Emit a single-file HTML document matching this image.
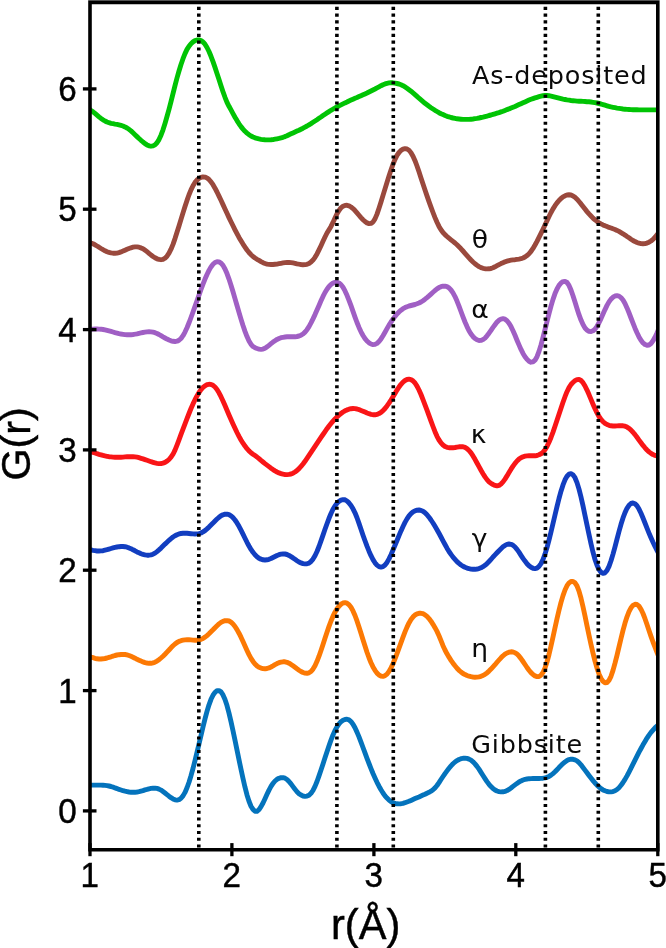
<!DOCTYPE html><html><head><meta charset="utf-8"><title>G(r)</title>
<style>html,body{margin:0;padding:0;background:#fff}body{width:666px;height:948px;overflow:hidden}svg{display:block}.t{font-family:"Liberation Sans",Arial,Helvetica,sans-serif;fill:#000;stroke:#000;stroke-width:0.45px}.l{font-family:"DejaVu Sans","Liberation Sans",sans-serif;fill:#0a0a0a}</style></head><body>
<svg width="666" height="948" viewBox="0 0 666 948">
<rect width="666" height="948" fill="#fff"/>
<defs><clipPath id="c"><rect x="90.0" y="2.4" width="567.8" height="847.4"/></clipPath></defs>
<g clip-path="url(#c)" fill="none" stroke-linejoin="round" stroke-linecap="butt" stroke-width="4.9">
<path d="M89.0,785.1 91.0,785.1 93.0,785.1 95.0,785.1 97.0,785.1 99.0,785.1 101.0,785.1 103.0,785.2 105.0,785.4 107.0,785.6 109.0,786.0 111.0,786.5 113.0,787.1 115.0,787.9 117.0,788.6 119.0,789.4 121.0,790.0 123.0,790.7 125.0,791.2 127.0,791.6 129.0,792.0 131.0,792.2 133.0,792.3 135.0,792.2 137.0,792.0 139.0,791.6 141.0,791.1 143.0,790.6 145.0,789.9 147.0,789.4 149.0,788.8 151.0,788.4 153.0,788.2 155.0,788.1 157.0,788.4 159.0,789.1 161.0,790.1 163.0,791.5 165.0,793.0 167.0,794.6 169.0,796.2 171.0,797.7 173.0,798.9 175.0,799.8 177.0,800.1 179.0,799.7 181.0,798.3 183.0,795.9 185.0,792.4 187.0,787.8 189.0,782.2 191.0,775.7 193.0,768.5 195.0,760.6 197.0,752.4 199.0,744.0 201.0,735.5 203.0,727.0 205.0,718.9 207.0,711.4 209.0,704.8 211.0,699.3 213.0,695.2 215.0,692.3 217.0,690.7 219.0,690.6 221.0,691.9 223.0,694.9 225.0,699.5 227.0,705.6 229.0,713.1 231.0,721.6 233.0,730.8 235.0,740.3 237.0,750.1 239.0,759.8 241.0,769.3 243.0,778.5 245.0,787.2 247.0,794.9 249.0,801.3 251.0,806.2 253.0,809.4 255.0,811.2 257.0,811.3 259.0,809.7 261.0,806.7 263.0,803.0 265.0,798.7 267.0,794.3 269.0,790.1 271.0,786.4 273.0,783.3 275.0,781.0 277.0,779.3 279.0,778.3 281.0,777.7 283.0,777.7 285.0,778.2 287.0,779.5 289.0,781.5 291.0,783.9 293.0,786.6 295.0,789.3 297.0,791.7 299.0,793.7 301.0,795.1 303.0,796.0 305.0,796.4 307.0,796.1 309.0,795.2 311.0,793.3 313.0,790.4 315.0,786.4 317.0,781.5 319.0,775.9 321.0,770.0 323.0,763.9 325.0,757.7 327.0,751.7 329.0,745.7 331.0,740.1 333.0,734.9 335.0,730.5 337.0,726.9 339.0,723.9 341.0,721.7 343.0,720.3 345.0,719.5 347.0,719.2 349.0,719.9 351.0,721.6 353.0,724.2 355.0,727.8 357.0,732.1 359.0,736.9 361.0,742.1 363.0,747.5 365.0,752.9 367.0,758.3 369.0,763.5 371.0,768.6 373.0,773.5 375.0,778.0 377.0,782.3 379.0,786.2 381.0,789.8 383.0,793.0 385.0,795.8 387.0,798.1 389.0,800.1 391.0,801.7 393.0,802.8 395.0,803.5 397.0,803.8 399.0,803.9 401.0,803.7 403.0,803.3 405.0,802.7 407.0,802.0 409.0,801.3 411.0,800.4 413.0,799.5 415.0,798.6 417.0,797.7 419.0,796.9 421.0,796.0 423.0,795.1 425.0,794.2 427.0,793.2 429.0,792.3 431.0,791.2 433.0,789.8 435.0,787.9 437.0,785.5 439.0,782.6 441.0,779.5 443.0,776.5 445.0,773.6 447.0,770.9 449.0,768.3 451.0,765.9 453.0,763.8 455.0,762.0 457.0,760.6 459.0,759.5 461.0,758.7 463.0,758.3 465.0,758.2 467.0,758.4 469.0,759.1 471.0,760.1 473.0,761.8 475.0,763.9 477.0,766.4 479.0,769.2 481.0,772.3 483.0,775.5 485.0,778.6 487.0,781.6 489.0,784.3 491.0,786.6 493.0,788.6 495.0,790.0 497.0,791.0 499.0,791.6 501.0,791.9 503.0,791.8 505.0,791.4 507.0,790.6 509.0,789.4 511.0,788.0 513.0,786.4 515.0,784.9 517.0,783.4 519.0,782.0 521.0,780.9 523.0,780.0 525.0,779.4 527.0,779.0 529.0,778.7 531.0,778.6 533.0,778.5 535.0,778.5 537.0,778.5 539.0,778.5 541.0,778.4 543.0,778.2 545.0,777.9 547.0,777.3 549.0,776.4 551.0,775.1 553.0,773.6 555.0,771.8 557.0,769.7 559.0,767.6 561.0,765.6 563.0,763.6 565.0,761.9 567.0,760.5 569.0,759.6 571.0,759.2 573.0,759.3 575.0,759.9 577.0,760.9 579.0,762.6 581.0,764.8 583.0,767.4 585.0,770.1 587.0,772.8 589.0,775.5 591.0,778.1 593.0,780.6 595.0,783.0 597.0,785.1 599.0,787.0 601.0,788.6 603.0,789.9 605.0,790.8 607.0,791.5 609.0,791.9 611.0,791.9 613.0,791.6 615.0,790.8 617.0,789.5 619.0,787.7 621.0,785.3 623.0,782.5 625.0,779.4 627.0,775.9 629.0,772.1 631.0,768.2 633.0,764.2 635.0,760.2 637.0,756.2 639.0,752.2 641.0,748.5 643.0,744.8 645.0,741.4 647.0,738.1 649.0,735.1 651.0,732.4 653.0,730.1 655.0,727.9 657.0,726.0 659.0,724.2" stroke="#0473bc"/>
<path d="M89.0,656.4 91.0,657.1 93.0,657.7 95.0,658.3 97.0,658.8 99.0,659.0 101.0,659.0 103.0,658.8 105.0,658.5 107.0,658.0 109.0,657.4 111.0,656.8 113.0,656.1 115.0,655.5 117.0,655.0 119.0,654.7 121.0,654.5 123.0,654.4 125.0,654.5 127.0,654.9 129.0,655.5 131.0,656.3 133.0,657.2 135.0,658.2 137.0,659.3 139.0,660.2 141.0,661.1 143.0,661.9 145.0,662.6 147.0,663.0 149.0,663.3 151.0,663.3 153.0,662.9 155.0,662.2 157.0,661.1 159.0,659.7 161.0,658.0 163.0,656.2 165.0,654.2 167.0,652.1 169.0,650.0 171.0,647.8 173.0,645.8 175.0,644.0 177.0,642.5 179.0,641.4 181.0,640.7 183.0,640.2 185.0,639.9 187.0,639.8 189.0,639.8 191.0,639.9 193.0,640.1 195.0,640.2 197.0,640.2 199.0,639.9 201.0,639.3 203.0,638.4 205.0,637.2 207.0,635.6 209.0,633.8 211.0,631.8 213.0,629.8 215.0,627.7 217.0,625.7 219.0,623.9 221.0,622.4 223.0,621.3 225.0,620.7 227.0,620.6 229.0,621.0 231.0,622.1 233.0,624.0 235.0,626.5 237.0,629.6 239.0,633.2 241.0,637.2 243.0,641.6 245.0,646.0 247.0,650.4 249.0,654.6 251.0,658.3 253.0,661.4 255.0,664.0 257.0,665.9 259.0,667.3 261.0,668.1 263.0,668.6 265.0,668.8 267.0,668.5 269.0,667.9 271.0,667.0 273.0,665.9 275.0,664.7 277.0,663.6 279.0,662.7 281.0,662.1 283.0,661.8 285.0,661.8 287.0,662.3 289.0,663.2 291.0,664.4 293.0,665.8 295.0,667.3 297.0,668.8 299.0,670.2 301.0,671.5 303.0,672.5 305.0,673.1 307.0,673.3 309.0,672.8 311.0,671.5 313.0,669.1 315.0,665.7 317.0,661.3 319.0,656.2 321.0,650.5 323.0,644.4 325.0,638.2 327.0,632.2 329.0,626.4 331.0,621.0 333.0,616.2 335.0,612.2 337.0,608.8 339.0,606.2 341.0,604.2 343.0,603.0 345.0,602.7 347.0,603.2 349.0,604.7 351.0,607.3 353.0,610.9 355.0,615.5 357.0,620.9 359.0,626.9 361.0,633.2 363.0,639.7 365.0,646.1 367.0,652.2 369.0,657.8 371.0,662.7 373.0,666.9 375.0,670.3 377.0,673.1 379.0,675.0 381.0,676.1 383.0,676.4 385.0,675.7 387.0,674.1 389.0,671.4 391.0,667.9 393.0,663.7 395.0,658.8 397.0,653.6 399.0,648.1 401.0,642.6 403.0,637.1 405.0,631.9 407.0,627.1 409.0,622.9 411.0,619.5 413.0,616.9 415.0,615.0 417.0,613.9 419.0,613.3 421.0,613.3 423.0,613.7 425.0,614.8 427.0,616.4 429.0,618.6 431.0,621.2 433.0,624.3 435.0,627.7 437.0,631.4 439.0,635.7 441.0,640.6 443.0,645.7 445.0,650.0 447.0,653.8 449.0,657.2 451.0,660.3 453.0,663.2 455.0,665.8 457.0,668.2 459.0,670.3 461.0,672.0 463.0,673.5 465.0,674.6 467.0,675.5 469.0,676.2 471.0,676.7 473.0,677.0 475.0,677.2 477.0,677.1 479.0,676.8 481.0,676.3 483.0,675.5 485.0,674.3 487.0,672.9 489.0,671.1 491.0,669.1 493.0,666.9 495.0,664.7 497.0,662.3 499.0,660.0 501.0,657.8 503.0,655.8 505.0,654.2 507.0,653.0 509.0,652.2 511.0,651.8 513.0,652.0 515.0,652.7 517.0,654.1 519.0,656.1 521.0,658.6 523.0,661.5 525.0,664.5 527.0,667.5 529.0,670.2 531.0,672.6 533.0,674.5 535.0,675.9 537.0,676.6 539.0,676.5 541.0,675.2 543.0,672.4 545.0,668.0 547.0,662.0 549.0,654.5 551.0,646.0 553.0,637.0 555.0,627.8 557.0,618.8 559.0,610.3 561.0,602.4 563.0,595.6 565.0,590.0 567.0,585.7 569.0,582.9 571.0,581.5 573.0,581.4 575.0,582.8 577.0,585.9 579.0,591.1 581.0,598.2 583.0,606.7 585.0,616.1 587.0,625.7 589.0,635.2 591.0,644.4 593.0,653.1 595.0,661.1 597.0,668.1 599.0,673.9 601.0,678.3 603.0,681.3 605.0,682.8 607.0,682.5 609.0,680.3 611.0,676.3 613.0,670.4 615.0,663.2 617.0,655.3 619.0,646.9 621.0,638.5 623.0,630.4 625.0,623.1 627.0,616.8 629.0,611.6 631.0,607.8 633.0,605.4 635.0,604.3 637.0,604.5 639.0,606.2 641.0,609.3 643.0,613.5 645.0,618.7 647.0,624.5 649.0,630.5 651.0,636.4 653.0,642.0 655.0,647.2 657.0,652.3 659.0,657.4" stroke="#fc7904"/>
<path d="M89.0,549.6 91.0,550.0 93.0,550.4 95.0,550.7 97.0,551.0 99.0,551.0 101.0,550.9 103.0,550.7 105.0,550.2 107.0,549.7 109.0,549.1 111.0,548.5 113.0,547.9 115.0,547.4 117.0,547.0 119.0,546.7 121.0,546.5 123.0,546.5 125.0,546.7 127.0,547.2 129.0,547.9 131.0,548.7 133.0,549.8 135.0,550.8 137.0,551.9 139.0,552.8 141.0,553.7 143.0,554.4 145.0,554.9 147.0,555.2 149.0,555.2 151.0,554.9 153.0,554.2 155.0,553.1 157.0,551.6 159.0,549.9 161.0,548.1 163.0,546.1 165.0,544.1 167.0,542.2 169.0,540.3 171.0,538.6 173.0,537.0 175.0,535.7 177.0,534.7 179.0,533.9 181.0,533.5 183.0,533.3 185.0,533.2 187.0,533.3 189.0,533.5 191.0,533.7 193.0,533.9 195.0,534.0 197.0,533.9 199.0,533.6 201.0,533.0 203.0,531.9 205.0,530.6 207.0,528.9 209.0,527.1 211.0,525.1 213.0,523.1 215.0,521.0 217.0,519.0 219.0,517.3 221.0,515.8 223.0,514.8 225.0,514.2 227.0,514.1 229.0,514.6 231.0,515.8 233.0,517.6 235.0,520.0 237.0,522.9 239.0,526.3 241.0,530.1 243.0,534.1 245.0,538.2 247.0,542.3 249.0,546.0 251.0,549.4 253.0,552.3 255.0,554.7 257.0,556.7 259.0,558.2 261.0,559.2 263.0,559.8 265.0,560.0 267.0,559.8 269.0,559.3 271.0,558.5 273.0,557.5 275.0,556.5 277.0,555.5 279.0,554.7 281.0,554.1 283.0,553.9 285.0,554.0 287.0,554.5 289.0,555.4 291.0,556.6 293.0,557.9 295.0,559.3 297.0,560.7 299.0,562.0 301.0,562.9 303.0,563.6 305.0,563.9 307.0,563.8 309.0,563.1 311.0,561.5 313.0,559.1 315.0,555.7 317.0,551.5 319.0,546.5 321.0,540.9 323.0,535.1 325.0,529.3 327.0,523.7 329.0,518.3 331.0,513.5 333.0,509.3 335.0,505.9 337.0,503.2 339.0,501.3 341.0,500.1 343.0,499.6 345.0,499.8 347.0,501.0 349.0,502.9 351.0,505.5 353.0,508.8 355.0,512.8 357.0,517.7 359.0,523.4 361.0,529.3 363.0,535.2 365.0,540.8 367.0,546.2 369.0,551.2 371.0,555.7 373.0,559.6 375.0,562.8 377.0,565.1 379.0,566.6 381.0,567.1 383.0,566.6 385.0,565.0 387.0,562.4 389.0,558.9 391.0,554.7 393.0,550.1 395.0,545.3 397.0,540.5 399.0,535.6 401.0,530.9 403.0,526.5 405.0,522.4 407.0,518.9 409.0,515.9 411.0,513.6 413.0,511.9 415.0,510.8 417.0,510.2 419.0,510.0 421.0,510.4 423.0,511.2 425.0,512.7 427.0,514.7 429.0,517.2 431.0,520.0 433.0,523.0 435.0,526.3 437.0,529.7 439.0,533.3 441.0,537.0 443.0,540.8 445.0,544.5 447.0,548.2 449.0,551.5 451.0,554.4 453.0,557.1 455.0,559.4 457.0,561.6 459.0,563.4 461.0,565.0 463.0,566.3 465.0,567.3 467.0,568.1 469.0,568.7 471.0,569.1 473.0,569.3 475.0,569.3 477.0,569.0 479.0,568.6 481.0,567.8 483.0,566.7 485.0,565.3 487.0,563.6 489.0,561.5 491.0,559.3 493.0,557.0 495.0,554.9 497.0,552.8 499.0,550.7 501.0,548.7 503.0,546.8 505.0,545.4 507.0,544.4 509.0,544.0 511.0,544.3 513.0,545.2 515.0,547.0 517.0,549.4 519.0,552.2 521.0,555.3 523.0,558.3 525.0,561.1 527.0,563.7 529.0,565.8 531.0,567.3 533.0,568.3 535.0,568.6 537.0,568.1 539.0,566.4 541.0,563.6 543.0,559.5 545.0,554.1 547.0,547.6 549.0,540.1 551.0,532.0 553.0,523.5 555.0,515.0 557.0,506.6 559.0,498.5 561.0,491.2 563.0,484.9 565.0,479.8 567.0,476.3 569.0,474.2 571.0,473.7 573.0,474.8 575.0,477.7 577.0,482.6 579.0,489.1 581.0,497.0 583.0,505.9 585.0,515.4 587.0,525.1 589.0,534.6 591.0,543.8 593.0,552.2 595.0,559.5 597.0,565.3 599.0,569.6 601.0,572.3 603.0,573.4 605.0,572.8 607.0,570.4 609.0,566.4 611.0,560.8 613.0,554.1 615.0,546.8 617.0,539.1 619.0,531.5 621.0,524.3 623.0,517.9 625.0,512.6 627.0,508.3 629.0,505.3 631.0,503.5 633.0,503.0 635.0,503.7 637.0,505.8 639.0,509.1 641.0,513.3 643.0,518.0 645.0,523.0 647.0,528.1 649.0,533.1 651.0,537.8 653.0,542.3 655.0,546.5 657.0,550.4 659.0,554.2" stroke="#123ec0"/>
<path d="M89.0,451.0 91.0,451.7 93.0,452.4 95.0,453.0 97.0,453.7 99.0,454.3 101.0,454.8 103.0,455.4 105.0,455.9 107.0,456.3 109.0,456.7 111.0,456.9 113.0,457.1 115.0,457.2 117.0,457.2 119.0,457.2 121.0,457.2 123.0,457.1 125.0,456.9 127.0,456.8 129.0,456.7 131.0,456.6 133.0,456.7 135.0,456.9 137.0,457.2 139.0,457.7 141.0,458.3 143.0,458.9 145.0,459.6 147.0,460.3 149.0,461.0 151.0,461.7 153.0,462.3 155.0,462.9 157.0,463.3 159.0,463.6 161.0,463.5 163.0,463.1 165.0,462.4 167.0,461.2 169.0,459.5 171.0,457.2 173.0,454.2 175.0,450.1 177.0,445.1 179.0,439.8 181.0,434.4 183.0,429.1 185.0,423.9 187.0,418.6 189.0,413.5 191.0,408.5 193.0,403.9 195.0,399.7 197.0,395.9 199.0,392.5 201.0,389.7 203.0,387.4 205.0,385.8 207.0,384.7 209.0,384.3 211.0,384.4 213.0,385.3 215.0,387.0 217.0,389.5 219.0,392.8 221.0,396.7 223.0,401.0 225.0,405.6 227.0,410.3 229.0,415.0 231.0,419.5 233.0,423.9 235.0,428.3 237.0,432.5 239.0,436.4 241.0,440.0 243.0,443.2 245.0,446.1 247.0,448.7 249.0,450.9 251.0,452.7 253.0,454.2 255.0,455.6 257.0,457.0 259.0,458.7 261.0,460.4 263.0,462.0 265.0,463.6 267.0,465.1 269.0,466.6 271.0,468.2 273.0,469.6 275.0,470.9 277.0,472.0 279.0,472.9 281.0,473.6 283.0,474.2 285.0,474.5 287.0,474.6 289.0,474.4 291.0,474.0 293.0,473.2 295.0,472.0 297.0,470.5 299.0,468.6 301.0,466.4 303.0,464.0 305.0,461.3 307.0,458.4 309.0,455.4 311.0,452.4 313.0,449.4 315.0,446.4 317.0,443.4 319.0,440.4 321.0,437.4 323.0,434.5 325.0,431.6 327.0,428.7 329.0,426.0 331.0,423.5 333.0,421.1 335.0,418.9 337.0,416.9 339.0,415.1 341.0,413.5 343.0,412.0 345.0,410.8 347.0,409.9 349.0,409.2 351.0,408.7 353.0,408.5 355.0,408.6 357.0,409.0 359.0,409.6 361.0,410.4 363.0,411.2 365.0,412.1 367.0,413.0 369.0,413.7 371.0,414.3 373.0,414.7 375.0,414.8 377.0,414.4 379.0,413.6 381.0,412.4 383.0,410.7 385.0,408.5 387.0,405.9 389.0,403.1 391.0,400.0 393.0,396.7 395.0,393.4 397.0,390.1 399.0,387.0 401.0,384.3 403.0,382.1 405.0,380.5 407.0,379.5 409.0,379.2 411.0,379.6 413.0,380.9 415.0,383.0 417.0,386.1 419.0,390.0 421.0,394.5 423.0,399.6 425.0,404.8 427.0,410.2 429.0,415.7 431.0,421.1 433.0,426.5 435.0,431.7 437.0,436.3 439.0,440.0 441.0,442.9 443.0,445.0 445.0,446.5 447.0,447.3 449.0,447.7 451.0,447.8 453.0,447.7 455.0,447.5 457.0,447.1 459.0,446.8 461.0,446.6 463.0,446.7 465.0,447.4 467.0,448.6 469.0,450.5 471.0,452.9 473.0,455.9 475.0,459.3 477.0,463.0 479.0,466.7 481.0,470.3 483.0,473.7 485.0,476.9 487.0,479.6 489.0,481.8 491.0,483.4 493.0,484.5 495.0,485.4 497.0,485.9 499.0,485.4 501.0,484.0 503.0,481.9 505.0,479.1 507.0,475.9 509.0,472.5 511.0,469.2 513.0,466.1 515.0,463.3 517.0,461.0 519.0,459.1 521.0,457.7 523.0,456.8 525.0,456.2 527.0,455.9 529.0,455.8 531.0,455.8 533.0,455.8 535.0,455.8 537.0,455.5 539.0,454.8 541.0,453.8 543.0,452.1 545.0,449.7 547.0,446.4 549.0,442.3 551.0,437.5 553.0,432.1 555.0,426.3 557.0,420.3 559.0,414.2 561.0,408.2 563.0,402.3 565.0,396.7 567.0,391.7 569.0,387.6 571.0,384.5 573.0,382.3 575.0,380.7 577.0,379.6 579.0,379.4 581.0,380.5 583.0,382.7 585.0,386.0 587.0,390.1 589.0,394.6 591.0,399.4 593.0,404.2 595.0,408.8 597.0,412.9 599.0,416.5 601.0,419.4 603.0,421.7 605.0,423.3 607.0,424.5 609.0,425.3 611.0,425.8 613.0,426.0 615.0,426.0 617.0,425.9 619.0,425.8 621.0,425.7 623.0,425.8 625.0,426.2 627.0,427.1 629.0,428.3 631.0,430.1 633.0,432.2 635.0,434.6 637.0,437.3 639.0,440.1 641.0,442.8 643.0,445.4 645.0,447.8 647.0,450.0 649.0,451.9 651.0,453.4 653.0,454.6 655.0,455.4 657.0,456.0 659.0,456.5" stroke="#f91517"/>
<path d="M89.0,329.4 91.0,329.2 93.0,329.1 95.0,329.0 97.0,329.0 99.0,329.1 101.0,329.2 103.0,329.5 105.0,329.9 107.0,330.4 109.0,330.9 111.0,331.4 113.0,332.0 115.0,332.6 117.0,333.1 119.0,333.6 121.0,334.0 123.0,334.3 125.0,334.6 127.0,334.7 129.0,334.8 131.0,334.7 133.0,334.5 135.0,334.2 137.0,333.8 139.0,333.3 141.0,332.9 143.0,332.5 145.0,332.2 147.0,331.9 149.0,331.8 151.0,331.9 153.0,332.2 155.0,332.7 157.0,333.5 159.0,334.5 161.0,335.7 163.0,336.9 165.0,338.0 167.0,339.1 169.0,340.0 171.0,340.8 173.0,341.3 175.0,341.5 177.0,341.2 179.0,340.2 181.0,338.5 183.0,335.7 185.0,332.1 187.0,327.7 189.0,322.8 191.0,317.5 193.0,312.0 195.0,306.4 197.0,300.7 199.0,295.1 201.0,289.5 203.0,284.1 205.0,279.1 207.0,274.5 209.0,270.4 211.0,266.9 213.0,264.3 215.0,262.5 217.0,261.7 219.0,261.9 221.0,263.1 223.0,265.4 225.0,269.0 227.0,273.6 229.0,279.1 231.0,285.2 233.0,291.8 235.0,298.6 237.0,305.5 239.0,312.4 241.0,319.1 243.0,325.5 245.0,331.4 247.0,336.6 249.0,341.0 251.0,344.3 253.0,346.5 255.0,347.7 257.0,348.5 259.0,349.1 261.0,349.4 263.0,349.1 265.0,348.2 267.0,346.9 269.0,345.3 271.0,343.7 273.0,342.1 275.0,340.7 277.0,339.4 279.0,338.5 281.0,337.7 283.0,337.3 285.0,337.0 287.0,336.8 289.0,336.8 291.0,336.8 293.0,336.8 295.0,336.8 297.0,336.5 299.0,336.0 301.0,335.2 303.0,334.0 305.0,332.1 307.0,329.7 309.0,326.6 311.0,322.9 313.0,318.9 315.0,314.6 317.0,310.0 319.0,305.4 321.0,300.8 323.0,296.4 325.0,292.5 327.0,289.2 329.0,286.5 331.0,284.5 333.0,283.1 335.0,282.4 337.0,282.3 339.0,283.0 341.0,284.6 343.0,287.3 345.0,290.9 347.0,295.3 349.0,300.3 351.0,305.7 353.0,311.4 355.0,317.1 357.0,322.5 359.0,327.4 361.0,331.8 363.0,335.5 365.0,338.6 367.0,341.0 369.0,342.8 371.0,344.0 373.0,344.6 375.0,344.4 377.0,343.4 379.0,341.5 381.0,338.9 383.0,335.7 385.0,332.2 387.0,328.6 389.0,325.1 391.0,322.0 393.0,319.1 395.0,316.4 397.0,313.9 399.0,311.9 401.0,310.2 403.0,308.7 405.0,307.6 407.0,306.7 409.0,306.0 411.0,305.5 413.0,305.0 415.0,304.5 417.0,303.8 419.0,303.0 421.0,302.0 423.0,300.7 425.0,299.2 427.0,297.6 429.0,295.9 431.0,294.1 433.0,292.3 435.0,290.5 437.0,288.9 439.0,287.6 441.0,286.7 443.0,286.2 445.0,286.2 447.0,286.7 449.0,287.9 451.0,290.0 453.0,292.9 455.0,296.6 457.0,301.1 459.0,306.1 461.0,311.5 463.0,316.8 465.0,322.0 467.0,326.6 469.0,330.7 471.0,334.0 473.0,336.6 475.0,338.5 477.0,339.8 479.0,340.5 481.0,340.4 483.0,339.6 485.0,338.1 487.0,335.8 489.0,333.2 491.0,330.3 493.0,327.4 495.0,324.7 497.0,322.1 499.0,320.2 501.0,319.1 503.0,318.7 505.0,319.2 507.0,320.7 509.0,323.2 511.0,326.6 513.0,330.7 515.0,335.3 517.0,340.2 519.0,344.9 521.0,349.4 523.0,353.4 525.0,356.7 527.0,359.3 529.0,361.2 531.0,362.2 533.0,361.9 535.0,360.2 537.0,356.7 539.0,351.4 541.0,344.9 543.0,337.5 545.0,329.6 547.0,321.5 549.0,313.6 551.0,306.1 553.0,299.4 555.0,293.6 557.0,289.0 559.0,285.4 561.0,283.0 563.0,281.6 565.0,281.4 567.0,282.5 569.0,285.4 571.0,290.0 573.0,295.7 575.0,302.1 577.0,308.5 579.0,314.7 581.0,320.1 583.0,324.6 585.0,328.0 587.0,330.2 589.0,331.4 591.0,331.6 593.0,330.8 595.0,329.1 597.0,326.3 599.0,322.8 601.0,318.6 603.0,314.1 605.0,309.6 607.0,305.4 609.0,301.9 611.0,299.1 613.0,297.2 615.0,296.0 617.0,295.7 619.0,296.1 621.0,297.6 623.0,300.0 625.0,303.5 627.0,307.9 629.0,312.8 631.0,318.0 633.0,323.2 635.0,328.2 637.0,332.8 639.0,336.9 641.0,340.3 643.0,342.9 645.0,344.5 647.0,345.3 649.0,345.0 651.0,343.5 653.0,340.8 655.0,337.2 657.0,333.0 659.0,328.3" stroke="#a05fc4"/>
<path d="M89.0,242.1 91.0,243.0 93.0,243.8 95.0,244.8 97.0,246.0 99.0,247.2 101.0,248.5 103.0,249.7 105.0,250.8 107.0,251.7 109.0,252.4 111.0,252.9 113.0,253.2 115.0,253.3 117.0,253.1 119.0,252.6 121.0,251.9 123.0,251.1 125.0,250.2 127.0,249.3 129.0,248.5 131.0,247.8 133.0,247.2 135.0,246.9 137.0,246.9 139.0,247.2 141.0,247.9 143.0,248.8 145.0,250.1 147.0,251.7 149.0,253.3 151.0,255.0 153.0,256.5 155.0,257.8 157.0,258.8 159.0,259.4 161.0,259.7 163.0,259.3 165.0,258.2 167.0,256.2 169.0,253.2 171.0,249.2 173.0,244.4 175.0,238.6 177.0,232.3 179.0,225.9 181.0,219.4 183.0,212.9 185.0,206.5 187.0,200.4 189.0,194.8 191.0,189.9 193.0,185.7 195.0,182.4 197.0,180.0 199.0,178.4 201.0,177.4 203.0,176.9 205.0,177.1 207.0,177.9 209.0,179.5 211.0,181.8 213.0,184.7 215.0,188.2 217.0,192.0 219.0,196.1 221.0,200.3 223.0,204.6 225.0,209.0 227.0,213.3 229.0,217.6 231.0,221.7 233.0,225.8 235.0,229.8 237.0,233.7 239.0,237.4 241.0,240.8 243.0,244.1 245.0,247.1 247.0,250.0 249.0,252.5 251.0,254.7 253.0,256.5 255.0,258.0 257.0,259.3 259.0,260.4 261.0,261.6 263.0,262.7 265.0,263.5 267.0,264.1 269.0,264.4 271.0,264.5 273.0,264.5 275.0,264.3 277.0,264.1 279.0,263.7 281.0,263.3 283.0,262.9 285.0,262.6 287.0,262.5 289.0,262.4 291.0,262.6 293.0,262.9 295.0,263.3 297.0,263.8 299.0,264.2 301.0,264.5 303.0,264.7 305.0,264.6 307.0,264.3 309.0,263.5 311.0,262.1 313.0,260.1 315.0,257.3 317.0,253.9 319.0,249.9 321.0,245.7 323.0,241.3 325.0,237.0 327.0,233.0 329.0,229.7 331.0,226.4 333.0,222.4 335.0,218.0 337.0,213.8 339.0,210.4 341.0,207.8 343.0,206.2 345.0,205.4 347.0,205.3 349.0,205.8 351.0,207.0 353.0,208.6 355.0,210.6 357.0,212.9 359.0,215.3 361.0,217.6 363.0,219.7 365.0,221.5 367.0,222.9 369.0,223.6 371.0,223.4 373.0,222.0 375.0,218.9 377.0,214.1 379.0,208.2 381.0,201.9 383.0,195.4 385.0,188.9 387.0,182.4 389.0,176.1 391.0,170.0 393.0,164.3 395.0,159.4 397.0,155.4 399.0,152.5 401.0,150.4 403.0,149.2 405.0,148.7 407.0,149.0 409.0,150.3 411.0,152.7 413.0,156.2 415.0,160.7 417.0,166.0 419.0,171.8 421.0,177.9 423.0,184.0 425.0,190.0 427.0,195.9 429.0,201.6 431.0,207.1 433.0,212.5 435.0,217.6 437.0,222.3 439.0,226.4 441.0,229.8 443.0,232.5 445.0,234.6 447.0,236.5 449.0,238.2 451.0,239.8 453.0,241.4 455.0,243.0 457.0,244.8 459.0,246.8 461.0,248.8 463.0,251.0 465.0,253.3 467.0,255.6 469.0,257.8 471.0,260.0 473.0,262.0 475.0,263.8 477.0,265.3 479.0,266.6 481.0,267.6 483.0,268.3 485.0,268.7 487.0,268.9 489.0,268.8 491.0,268.5 493.0,267.8 495.0,266.8 497.0,265.7 499.0,264.6 501.0,263.6 503.0,262.7 505.0,261.8 507.0,261.2 509.0,260.6 511.0,260.2 513.0,259.9 515.0,259.7 517.0,259.4 519.0,259.1 521.0,258.7 523.0,258.0 525.0,257.0 527.0,255.6 529.0,253.8 531.0,251.4 533.0,248.4 535.0,245.0 537.0,241.3 539.0,237.3 541.0,233.3 543.0,229.2 545.0,225.0 547.0,220.7 549.0,216.5 551.0,212.5 553.0,208.9 555.0,205.7 557.0,202.9 559.0,200.5 561.0,198.5 563.0,196.9 565.0,195.8 567.0,195.0 569.0,194.8 571.0,195.0 573.0,195.9 575.0,197.3 577.0,199.2 579.0,201.5 581.0,203.9 583.0,206.5 585.0,209.1 587.0,211.6 589.0,213.9 591.0,216.0 593.0,218.1 595.0,219.9 597.0,221.4 599.0,222.8 601.0,223.9 603.0,224.9 605.0,225.8 607.0,226.6 609.0,227.4 611.0,228.0 613.0,228.8 615.0,229.5 617.0,230.4 619.0,231.4 621.0,232.6 623.0,233.8 625.0,235.1 627.0,236.5 629.0,237.8 631.0,239.2 633.0,240.5 635.0,241.6 637.0,242.5 639.0,243.2 641.0,243.6 643.0,243.7 645.0,243.6 647.0,243.1 649.0,242.2 651.0,241.0 653.0,239.4 655.0,237.3 657.0,234.9 659.0,232.4" stroke="#9a493d"/>
<path d="M89.0,108.9 91.0,110.4 93.0,111.8 95.0,113.4 97.0,115.1 99.0,116.8 101.0,118.4 103.0,119.8 105.0,121.0 107.0,122.0 109.0,122.7 111.0,123.3 113.0,123.7 115.0,124.1 117.0,124.4 119.0,124.9 121.0,125.4 123.0,126.0 125.0,126.9 127.0,128.0 129.0,129.3 131.0,130.9 133.0,132.8 135.0,134.7 137.0,136.6 139.0,138.5 141.0,140.3 143.0,142.0 145.0,143.6 147.0,144.9 149.0,145.8 151.0,146.2 153.0,145.9 155.0,144.9 157.0,142.8 159.0,139.6 161.0,135.2 163.0,129.8 165.0,123.4 167.0,116.5 169.0,109.3 171.0,101.6 173.0,93.6 175.0,85.6 177.0,78.0 179.0,71.0 181.0,64.5 183.0,58.7 185.0,53.6 187.0,49.4 189.0,46.2 191.0,43.7 193.0,41.9 195.0,40.6 197.0,40.0 199.0,39.9 201.0,40.5 203.0,42.0 205.0,44.2 207.0,47.5 209.0,51.5 211.0,56.3 213.0,61.6 215.0,67.4 217.0,73.4 219.0,79.5 221.0,85.7 223.0,91.7 225.0,97.3 227.0,102.3 229.0,106.3 231.0,109.9 233.0,113.6 235.0,117.2 237.0,120.6 239.0,123.8 241.0,126.6 243.0,129.1 245.0,131.3 247.0,133.1 249.0,134.7 251.0,136.0 253.0,137.0 255.0,137.8 257.0,138.4 259.0,138.9 261.0,139.3 263.0,139.6 265.0,139.8 267.0,139.9 269.0,139.9 271.0,139.8 273.0,139.6 275.0,139.2 277.0,138.8 279.0,138.4 281.0,137.9 283.0,137.3 285.0,136.6 287.0,135.7 289.0,134.7 291.0,133.8 293.0,132.9 295.0,132.0 297.0,131.1 299.0,130.2 301.0,129.2 303.0,128.2 305.0,127.1 307.0,126.0 309.0,124.8 311.0,123.6 313.0,122.3 315.0,121.0 317.0,119.7 319.0,118.3 321.0,117.0 323.0,115.6 325.0,114.2 327.0,112.9 329.0,111.6 331.0,110.3 333.0,109.2 335.0,108.0 337.0,107.0 339.0,105.9 341.0,104.9 343.0,103.9 345.0,102.9 347.0,102.0 349.0,101.0 351.0,100.1 353.0,99.2 355.0,98.3 357.0,97.5 359.0,96.6 361.0,95.7 363.0,94.8 365.0,93.9 367.0,93.0 369.0,92.0 371.0,91.0 373.0,90.0 375.0,89.0 377.0,87.9 379.0,86.8 381.0,85.7 383.0,84.7 385.0,83.9 387.0,83.3 389.0,82.9 391.0,82.8 393.0,82.8 395.0,83.1 397.0,83.5 399.0,84.0 401.0,84.8 403.0,85.7 405.0,86.9 407.0,88.2 409.0,89.7 411.0,91.2 413.0,92.9 415.0,94.6 417.0,96.4 419.0,98.2 421.0,99.9 423.0,101.6 425.0,103.3 427.0,104.8 429.0,106.3 431.0,107.7 433.0,109.0 435.0,110.3 437.0,111.5 439.0,112.7 441.0,113.7 443.0,114.6 445.0,115.5 447.0,116.3 449.0,116.9 451.0,117.5 453.0,118.0 455.0,118.4 457.0,118.8 459.0,119.0 461.0,119.2 463.0,119.4 465.0,119.4 467.0,119.4 469.0,119.4 471.0,119.2 473.0,119.0 475.0,118.7 477.0,118.4 479.0,118.0 481.0,117.5 483.0,117.1 485.0,116.6 487.0,116.1 489.0,115.5 491.0,115.0 493.0,114.4 495.0,113.8 497.0,113.2 499.0,112.6 501.0,111.9 503.0,111.2 505.0,110.4 507.0,109.6 509.0,108.9 511.0,108.0 513.0,107.2 515.0,106.4 517.0,105.5 519.0,104.6 521.0,103.7 523.0,102.8 525.0,101.9 527.0,101.0 529.0,100.1 531.0,99.3 533.0,98.6 535.0,97.9 537.0,97.3 539.0,96.7 541.0,96.2 543.0,95.7 545.0,95.5 547.0,95.5 549.0,95.7 551.0,96.1 553.0,96.6 555.0,97.1 557.0,97.6 559.0,98.1 561.0,98.6 563.0,99.1 565.0,99.5 567.0,99.9 569.0,100.2 571.0,100.5 573.0,100.7 575.0,100.9 577.0,101.1 579.0,101.2 581.0,101.3 583.0,101.4 585.0,101.5 587.0,101.7 589.0,101.8 591.0,102.0 593.0,102.3 595.0,102.6 597.0,103.0 599.0,103.5 601.0,104.0 603.0,104.6 605.0,105.2 607.0,105.8 609.0,106.4 611.0,106.9 613.0,107.3 615.0,107.7 617.0,108.1 619.0,108.4 621.0,108.7 623.0,109.0 625.0,109.2 627.0,109.4 629.0,109.5 631.0,109.6 633.0,109.7 635.0,109.8 637.0,109.8 639.0,109.9 641.0,109.9 643.0,109.9 645.0,109.9 647.0,109.9 649.0,109.9 651.0,109.9 653.0,109.9 655.0,109.9 657.0,109.9 659.0,109.9" stroke="#00c404"/>
</g>
<rect x="88.2" y="0" width="571.4" height="0.9" fill="#9c9c9c"/>
<g stroke="#000" stroke-width="3.6" stroke-dasharray="3.1 3.655" fill="none">
<line x1="198.8" y1="6.85" x2="198.8" y2="849.8"/>
<line x1="336.9" y1="6.85" x2="336.9" y2="849.8"/>
<line x1="393.3" y1="6.85" x2="393.3" y2="849.8"/>
<line x1="545.4" y1="6.85" x2="545.4" y2="849.8"/>
<line x1="598.3" y1="6.85" x2="598.3" y2="849.8"/>
</g>
<g stroke="#000" stroke-width="3.6" fill="none">
<path d="M90.0,851.5999999999999 V2.4 H657.8 V851.5999999999999 M90.0,849.8 H657.8"/>
</g>
<g stroke="#000" stroke-width="3.3" fill="none">
<line x1="82.9" y1="810.9" x2="96.5" y2="810.9"/>
<line x1="82.9" y1="690.6" x2="96.5" y2="690.6"/>
<line x1="82.9" y1="570.2" x2="96.5" y2="570.2"/>
<line x1="82.9" y1="449.9" x2="96.5" y2="449.9"/>
<line x1="82.9" y1="329.6" x2="96.5" y2="329.6"/>
<line x1="82.9" y1="209.2" x2="96.5" y2="209.2"/>
<line x1="82.9" y1="88.9" x2="96.5" y2="88.9"/>
<line x1="90.0" y1="843.0999999999999" x2="90.0" y2="856.1999999999999"/>
<line x1="231.9" y1="843.0999999999999" x2="231.9" y2="856.1999999999999"/>
<line x1="373.9" y1="843.0999999999999" x2="373.9" y2="856.1999999999999"/>
<line x1="515.8" y1="843.0999999999999" x2="515.8" y2="856.1999999999999"/>
<line x1="657.8" y1="843.0999999999999" x2="657.8" y2="856.1999999999999"/>
</g>
<g class="t" font-size="34.9" text-anchor="end">
<text transform="translate(76.7,823.1) scale(0.95,1)">0</text>
<text transform="translate(76.7,702.8) scale(0.95,1)">1</text>
<text transform="translate(76.7,582.4) scale(0.95,1)">2</text>
<text transform="translate(76.7,462.1) scale(0.95,1)">3</text>
<text transform="translate(76.7,341.8) scale(0.95,1)">4</text>
<text transform="translate(76.7,221.4) scale(0.95,1)">5</text>
<text transform="translate(76.7,101.1) scale(0.95,1)">6</text>
</g>
<g class="t" font-size="34.9" text-anchor="middle">
<text transform="translate(89.8,887.0) scale(0.95,1)">1</text>
<text transform="translate(231.8,887.0) scale(0.95,1)">2</text>
<text transform="translate(373.7,887.0) scale(0.95,1)">3</text>
<text transform="translate(515.6,887.0) scale(0.95,1)">4</text>
<text transform="translate(657.6,887.0) scale(0.95,1)">5</text>
</g>
<text class="t" font-size="41.6" x="331" y="939.2">r(Å)</text>
<text class="t" font-size="41.3" transform="translate(30.4,480.6) rotate(-90)">G(r)</text>
<g class="l" font-size="24.5" letter-spacing="0.8">
<text transform="translate(471.9,84.3) scale(1.04,1)">As-deposited</text>
<text transform="translate(471.2,753.3) scale(1.04,1)">Gibbsite</text>
</g>
<g class="l" font-size="25.3">
<text transform="translate(471.8,247.8) scale(1.05,1)">θ</text>
<text transform="translate(471.3,317.6) scale(1.05,1)">α</text>
<text transform="translate(470.7,443.3) scale(1.05,1)">κ</text>
<text transform="translate(471.7,546.8) scale(1.05,1)">γ</text>
<text transform="translate(471.2,657.3) scale(1.05,1)">η</text>
</g>
</svg></body></html>
